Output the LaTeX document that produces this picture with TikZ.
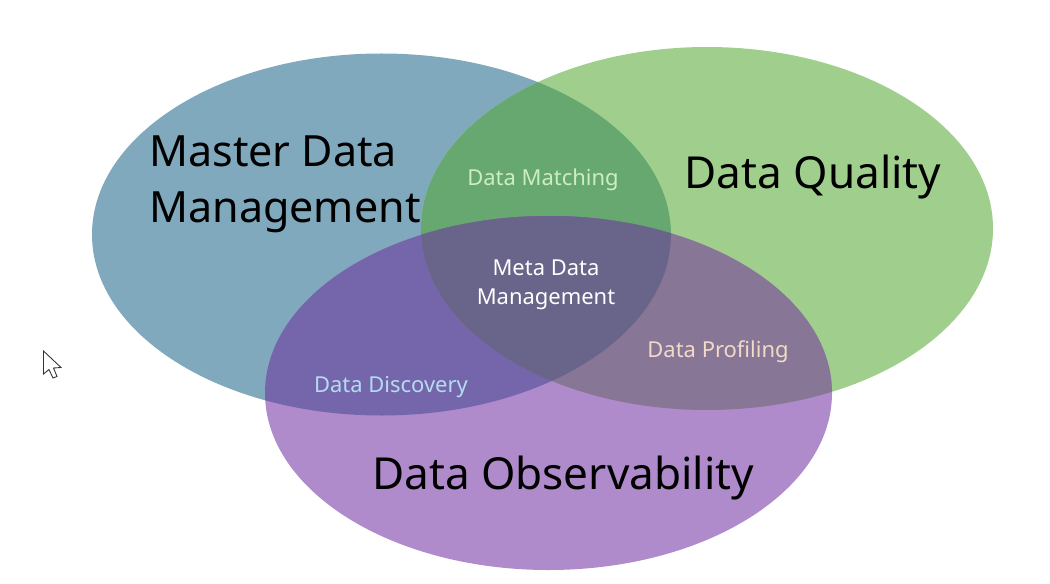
\documentclass[tikz,border=0pt]{standalone}
\usepackage{fontspec}
\setmainfont{Noto Sans}
\definecolor{mdm_blue}{HTML}{80A9BD}
\definecolor{dq_green}{HTML}{A0CF8D}
\definecolor{do_purple}{HTML}{AF8BCB}
\definecolor{match_green}{HTML}{66A86F}
\definecolor{disc_violet}{HTML}{7566AB}
\definecolor{prof_mauve}{HTML}{877696}
\definecolor{meta_slate}{HTML}{696489}
\definecolor{match_label}{HTML}{CDEDC2}
\definecolor{prof_label}{HTML}{F2D9C8}
\definecolor{disc_label}{HTML}{B4DCF0}
\begin{document}
\begin{tikzpicture}[x=0.02cm, y=-0.02cm,
big_style/.style={text=black, font=\fontsize{25.1}{32}\selectfont, align=left},
small_style/.style={font=\fontsize{12.5}{16.5}\selectfont, align=center},
cursor_style/.style={draw=black!80, fill=white, line width=0.5pt, line join=miter}]
\useasboundingbox (0,0) rectangle (1050,584);
\def\mdmpath{(381.5,234.5) ellipse [x radius=289.5, y radius=181]}
\def\dqpath{(707,228.5) ellipse [x radius=286, y radius=181.5]}
\def\dopath{(548.5,393) ellipse [x radius=283.5, y radius=177]}

\fill[white] (0,0) rectangle (1050,584);
\fill[mdm_blue] \mdmpath;
\fill[dq_green] \dqpath;
\fill[do_purple] \dopath;

% overlaps
\begin{scope}
\clip \mdmpath;
\fill[match_green] \dqpath;
\fill[disc_violet] \dopath;
\clip \dqpath;
\fill[meta_slate] \dopath;
\end{scope}
\begin{scope}
\clip \dqpath;
\clip \dopath;
\fill[prof_mauve] (421,216) rectangle (832,410);
\clip \mdmpath;
\fill[meta_slate] (421,216) rectangle (832,410);
\end{scope}

\node[big_style, anchor=west, font=\fontsize{24.5}{32}\selectfont] (mdm) at (143,184) {Master Data\\Management};
\node[big_style] (dq) at (813,177) {Data Quality};
\node[big_style] (do) at (563,478) {Data Observability};

\node[small_style, text=match_label] (match) at (543,180) {Data Matching};
\node[small_style, text=white] (meta) at (546,285) {Meta Data\\Management};
\node[small_style, text=prof_label] (prof) at (718,352) {Data Profiling};
\node[small_style, text=disc_label] (disc) at (391,387) {Data Discovery};

% mouse pointer
\draw[cursor_style] (43.5,351) -- (43.5,374) -- (49,369.5) -- (53,378) -- (57,376.5) -- (53.5,368) -- (61,367.5) -- cycle;
\end{tikzpicture}
\end{document}
